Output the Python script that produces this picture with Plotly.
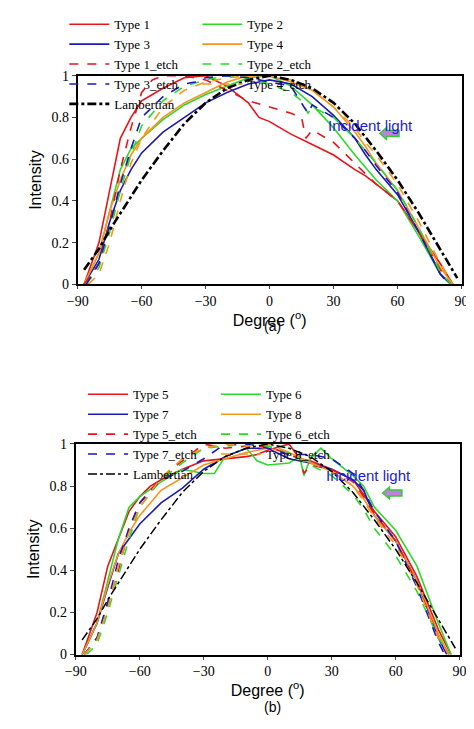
import plotly.graph_objects as go

# ---- panel (a) ----
t1 = ([-87, -80, -75, -70, -65, -60, -50, -40, -30, -20, -10, -5, 0, 10, 20, 30, 40, 45, 50, 60, 70, 80, 86],
      [0, 0.2, 0.45, 0.7, 0.8, 0.88, 0.94, 0.99, 1.0, 0.95, 0.87, 0.8, 0.78, 0.72, 0.67, 0.62, 0.55, 0.52, 0.48, 0.4, 0.25, 0.1, 0])
t2 = ([-87, -80, -75, -70, -65, -60, -50, -40, -30, -20, -10, 0, 10, 20, 30, 40, 45, 50, 60, 70, 80, 85],
      [0, 0.15, 0.35, 0.55, 0.65, 0.7, 0.79, 0.86, 0.91, 0.95, 0.99, 1.0, 0.95, 0.86, 0.75, 0.62, 0.56, 0.5, 0.4, 0.23, 0.05, 0])
t3 = ([-87, -80, -75, -70, -65, -60, -50, -40, -30, -20, -10, -5, 0, 10, 20, 30, 40, 45, 50, 60, 70, 80, 85],
      [0, 0.12, 0.3, 0.45, 0.55, 0.63, 0.73, 0.8, 0.87, 0.92, 0.96, 0.97, 0.98, 0.96, 0.9, 0.81, 0.7, 0.62, 0.55, 0.43, 0.25, 0.05, 0])
t4 = ([-87, -80, -75, -70, -65, -60, -50, -40, -30, -20, -10, 0, 10, 20, 30, 40, 45, 50, 60, 70, 80, 86],
      [0, 0.15, 0.35, 0.5, 0.62, 0.7, 0.8, 0.87, 0.92, 0.97, 1.0, 1.0, 0.97, 0.93, 0.85, 0.73, 0.66, 0.58, 0.45, 0.27, 0.08, 0])
t1e = ([-87, -80, -75, -70, -65, -60, -55, -50, -40, -30, -20, -10, 0, 10, 15, 17, 20, 30, 40, 45, 50, 60, 70, 80, 85],
       [0, 0.1, 0.3, 0.55, 0.75, 0.92, 0.98, 1.0, 1.0, 0.98, 0.93, 0.88, 0.85, 0.82, 0.8, 0.7, 0.74, 0.68, 0.58, 0.53, 0.48, 0.4, 0.25, 0.07, 0])
t2e = ([-86, -80, -75, -70, -65, -60, -50, -40, -30, -20, -10, 0, 10, 15, 18, 20, 30, 40, 45, 50, 60, 70, 80, 85],
       [0, 0.08, 0.25, 0.45, 0.62, 0.76, 0.88, 0.95, 0.98, 1.0, 0.99, 0.96, 0.92, 0.88, 0.82, 0.85, 0.8, 0.7, 0.64, 0.58, 0.45, 0.27, 0.06, 0])
t3e = ([-86, -80, -75, -70, -65, -60, -50, -40, -35, -30, -20, -10, 0, 10, 18, 20, 30, 40, 45, 50, 60, 70, 80, 84],
       [0, 0.1, 0.28, 0.48, 0.65, 0.8, 0.9, 0.96, 0.97, 0.99, 1.0, 0.99, 0.97, 0.95, 0.82, 0.86, 0.8, 0.7, 0.64, 0.57, 0.44, 0.25, 0.05, 0])
t4e = ([-85, -80, -75, -70, -65, -60, -50, -40, -30, -20, -10, 0, 10, 20, 30, 40, 45, 50, 60, 70, 80, 86],
       [0, 0.05, 0.2, 0.4, 0.58, 0.7, 0.85, 0.93, 0.97, 0.99, 1.0, 1.0, 0.98, 0.93, 0.85, 0.75, 0.68, 0.62, 0.48, 0.3, 0.1, 0])

# ---- panel (b) ----
t5 = ([-87, -80, -75, -70, -65, -60, -55, -50, -40, -30, -20, -10, -5, 0, 10, 15, 20, 30, 40, 45, 50, 60, 70, 80, 86],
      [0, 0.2, 0.42, 0.55, 0.68, 0.75, 0.8, 0.83, 0.88, 0.92, 0.93, 0.94, 0.95, 0.97, 1.0, 0.93, 0.92, 0.88, 0.83, 0.76, 0.68, 0.56, 0.37, 0.12, 0])
t6 = ([-87, -80, -75, -70, -65, -60, -50, -40, -30, -25, -20, -10, -5, 0, 10, 15, 17, 20, 25, 30, 40, 45, 50, 60, 70, 80, 86],
      [0, 0.15, 0.35, 0.55, 0.7, 0.75, 0.82, 0.88, 0.86, 0.86, 0.94, 0.98, 0.92, 0.9, 0.91, 0.94, 0.85, 0.93, 0.98, 0.93, 0.85, 0.8, 0.7, 0.59, 0.42, 0.15, 0])
t7 = ([-87, -80, -75, -70, -65, -60, -50, -40, -30, -20, -10, 0, 10, 20, 30, 40, 45, 50, 60, 70, 80, 84],
      [0, 0.15, 0.32, 0.48, 0.55, 0.62, 0.72, 0.79, 0.88, 0.94, 0.98, 0.98, 0.93, 0.91, 0.88, 0.83, 0.78, 0.66, 0.54, 0.35, 0.08, 0])
t8 = ([-87, -80, -75, -70, -65, -60, -50, -40, -30, -20, -10, 0, 10, 20, 30, 40, 45, 50, 60, 70, 80, 85],
      [0, 0.15, 0.33, 0.48, 0.58, 0.66, 0.78, 0.84, 0.9, 0.93, 0.96, 0.98, 0.96, 0.91, 0.87, 0.8, 0.74, 0.66, 0.54, 0.35, 0.1, 0])
t5e = ([-86, -80, -75, -70, -65, -60, -50, -40, -30, -20, -10, 0, 10, 15, 17, 20, 30, 40, 45, 50, 60, 70, 80, 85],
       [0, 0.08, 0.24, 0.4, 0.6, 0.72, 0.84, 0.92, 1.0, 0.98, 0.99, 0.99, 0.95, 0.93, 0.86, 0.9, 0.88, 0.82, 0.75, 0.67, 0.54, 0.34, 0.08, 0])
t6e = ([-85, -80, -75, -70, -65, -60, -50, -40, -30, -20, -10, 0, 10, 20, 30, 40, 45, 50, 60, 70, 80, 85],
       [0, 0.05, 0.2, 0.38, 0.55, 0.7, 0.83, 0.91, 0.98, 0.99, 1.0, 0.99, 0.96, 0.9, 0.85, 0.76, 0.69, 0.6, 0.47, 0.3, 0.08, 0])
t7e = ([-86, -80, -75, -70, -65, -60, -50, -40, -30, -20, -10, 0, 10, 20, 30, 40, 45, 50, 60, 70, 80, 83],
       [0, 0.08, 0.25, 0.45, 0.6, 0.72, 0.83, 0.87, 0.93, 1.0, 1.0, 0.98, 0.95, 0.95, 0.93, 0.86, 0.78, 0.68, 0.54, 0.32, 0.06, 0])
t8e = ([-86, -80, -75, -70, -65, -60, -50, -40, -30, -20, -10, 0, 10, 20, 30, 40, 45, 50, 60, 70, 80, 85],
       [0, 0.07, 0.22, 0.42, 0.58, 0.7, 0.84, 0.93, 0.98, 1.0, 0.99, 1.0, 0.96, 0.91, 0.87, 0.8, 0.73, 0.65, 0.52, 0.33, 0.08, 0])

lamb = ([-87, -80, -75, -70, -60, -50, -40, -30, -20, -10, 0, 10, 20, 30, 40, 50, 60, 70, 80, 88],
        [0.07, 0.17, 0.26, 0.34, 0.5, 0.64, 0.77, 0.87, 0.94, 0.98, 1.0, 0.98, 0.94, 0.87, 0.77, 0.64, 0.5, 0.34, 0.17, 0.03])

RED, GREEN, BLUE, ORANGE = "#e8141b", "#2bd92b", "#1a1ab8", "#f7941d"

top = [("Type 1", t1, RED, "solid"), ("Type 2", t2, GREEN, "solid"), ("Type 3", t3, BLUE, "solid"),
       ("Type 4", t4, ORANGE, "solid"), ("Type 1_etch", t1e, RED, "dash"), ("Type 2_etch", t2e, GREEN, "dash"),
       ("Type 3_etch", t3e, BLUE, "dash"), ("Type 4_etch", t4e, ORANGE, "dash")]
bot = [("Type 5", t5, RED, "solid"), ("Type 6", t6, GREEN, "solid"), ("Type 7", t7, BLUE, "solid"),
       ("Type 8", t8, ORANGE, "solid"), ("Type 5_etch", t5e, RED, "dash"), ("Type 6_etch", t6e, GREEN, "dash"),
       ("Type 7_etch", t7e, BLUE, "dash"), ("Type 8_etch", t8e, ORANGE, "dash")]

fig = go.Figure()
for name, (x, y), c, d in top:
    fig.add_trace(go.Scatter(x=x, y=y, name=name, mode="lines", line=dict(color=c, dash=d, width=1.6),
                             xaxis="x", yaxis="y", legend="legend"))
fig.add_trace(go.Scatter(x=lamb[0], y=lamb[1], name="Lambertian", mode="lines",
                         line=dict(color="black", dash="dashdot", width=2.6), xaxis="x", yaxis="y", legend="legend"))
for name, (x, y), c, d in bot:
    fig.add_trace(go.Scatter(x=x, y=y, name=name, mode="lines", line=dict(color=c, dash=d, width=1.6),
                             xaxis="x2", yaxis="y2", legend="legend2"))
fig.add_trace(go.Scatter(x=lamb[0], y=lamb[1], name="Lambertian", mode="lines",
                         line=dict(color="black", dash="dashdot", width=1.5), xaxis="x2", yaxis="y2", legend="legend2"))

W, H = 474, 729
ax = dict(range=[-90, 90], tickvals=[-90, -60, -30, 0, 30, 60, 90], ticks="outside", ticklen=3,
          showline=True, mirror=True, linecolor="black", linewidth=2, showgrid=False, zeroline=False,
          tickfont=dict(family="Liberation Serif", size=14, color="black"),
          title=dict(text="Degree (<sup>o</sup>)", font=dict(family="Liberation Sans", size=16, color="black"), standoff=0))
ay = dict(range=[0, 1], tickvals=[0, 0.2, 0.4, 0.6, 0.8, 1], ticktext=["0", "0.2", "0.4", "0.6", "0.8", "1"],
          ticks="outside", ticklen=4, showline=True, mirror=True, linecolor="black", linewidth=2,
          showgrid=False, zeroline=False, tickfont=dict(family="Liberation Serif", size=14, color="black"),
          title=dict(text="Intensity", font=dict(family="Liberation Sans", size=16, color="black"), standoff=6))
leg = dict(orientation="h", entrywidth=78, entrywidthmode="pixels", xanchor="left", yanchor="top",
           font=dict(family="Liberation Serif", size=13, color="black"), tracegroupgap=0,
           bgcolor="rgba(0,0,0,0)", itemwidth=40)

fig.update_layout(
    width=W, height=H, margin=dict(l=0, r=0, t=0, b=0), plot_bgcolor="white", paper_bgcolor="white",
    xaxis=dict(ax, domain=[61 / W, 460 / W], anchor="y"),
    yaxis=dict(ay, domain=[1 - 275 / H, 1 - 62 / H], anchor="x"),
    xaxis2=dict(ax, domain=[59 / W, 458 / W], anchor="y2"),
    yaxis2=dict(ay, domain=[1 - 653 / H, 1 - 438 / H], anchor="x2"),
    legend=dict(leg, x=68 / W, y=1.008),
    legend2=dict(leg, x=96 / W, y=1 - 372 / H),
)

for yy, t in [(318, "(a)"), (717, "(b)")]:
    fig.add_annotation(text=t, x=263 / W, y=1 - yy / H, xref="paper", yref="paper", showarrow=False,
                       font=dict(family="Liberation Sans", size=14, color="black"))
for xx, yy in [(412, 102), (410, 470)]:
    fig.add_annotation(text="Incident light", x=xx / W, y=1 - yy / H, xref="paper", yref="paper", showarrow=False,
                       font=dict(family="Liberation Sans", size=15, color="#1a1ae0"))

# left-pointing arrows
for cx, cy in [(385, 121), (388, 488)]:
    pts = [(cx - 10, cy), (cx - 3, cy - 6), (cx - 3, cy - 3), (cx + 10, cy - 3),
           (cx + 10, cy + 3), (cx - 3, cy + 3), (cx - 3, cy + 6)]
    path = "M " + " L ".join(f"{px / W},{1 - py / H}" for px, py in pts) + " Z"
    fig.add_shape(type="path", path=path, xref="paper", yref="paper",
                  fillcolor="#c080e0", line=dict(color="#33cc33", width=1.5))

fig.write_html("out.html")
